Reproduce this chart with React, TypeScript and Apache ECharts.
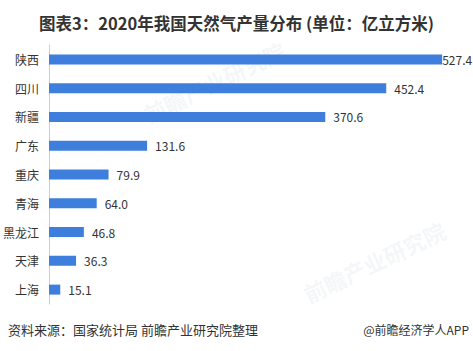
import React, { useEffect, useRef } from "react";
import * as echarts from "echarts";

const categories = ["陕西", "四川", "新疆", "广东", "重庆", "青海", "黑龙江", "天津", "上海"];
const values = [527.4, 452.4, 370.6, 131.6, 79.9, 64.0, 46.8, 36.3, 15.1];
const titleText = "图表3：2020年我国天然气产量分布 (单位：亿立方米)";
const sourceText = "资料来源：国家统计局 前瞻产业研究院整理";
const brandText = "@前瞻经济学人APP";
const watermarkText = "前瞻产业研究院";

export default function App() {
  const ref = useRef<HTMLDivElement>(null);
  useEffect(() => {
    if (!ref.current) return;
    const chart = echarts.init(ref.current, null, { renderer: "svg" });
    const font = "'Noto Sans CJK SC', 'Noto Sans', sans-serif";
    chart.setOption({
      animation: false,
      backgroundColor: "#ffffff",
      title: {
        text: titleText,
        left: "center",
        top: 10,
        textStyle: { fontSize: 16.5, fontWeight: "bold", color: "#333333", fontFamily: font },
      },
      grid: { left: 49, right: 14, top: 45, bottom: 47, containLabel: false },
      xAxis: {
        type: "value",
        min: 0,
        max: 550,
        show: false,
      },
      yAxis: {
        type: "category",
        data: categories,
        inverse: true,
        axisLine: { show: true, lineStyle: { color: "#cfcfcf", width: 1 } },
        axisTick: { show: false },
        axisLabel: { color: "#333333", fontSize: 12, margin: 10, fontFamily: font },
      },
      series: [
        {
          type: "bar",
          data: values.map((v, i) =>
            i === 0 ? { value: v, label: { distance: 0 } } : v
          ),
          barWidth: 10,
          itemStyle: { color: "#3e7fdd" },
          label: {
            show: true,
            position: "right",
            distance: 8,
            color: "#333333",
            fontSize: 12,
            fontFamily: font,
            formatter: (p: any) => Number(p.value).toFixed(1),
          },
        },
      ],
      graphic: [
        {
          type: "text",
          left: 8,
          top: 323,
          style: { text: sourceText, fill: "#333333", font: `13px ${font}` },
        },
        {
          type: "text",
          right: 4,
          top: 323,
          style: { text: brandText, fill: "#333333", font: `12px ${font}` },
        },
        {
          type: "text",
          x: 140,
          y: 105,
          rotation: Math.PI / 7,
          z: -1,
          silent: true,
          style: { text: watermarkText, fill: "rgba(190,200,215,0.16)", font: `bold 22px ${font}` },
        },
        {
          type: "text",
          x: 300,
          y: 285,
          rotation: Math.PI / 7,
          z: -1,
          silent: true,
          style: { text: watermarkText, fill: "rgba(190,200,215,0.16)", font: `bold 22px ${font}` },
        },
      ],
    });
    return () => chart.dispose();
  }, []);
  return (
    <div
      ref={ref}
      style={{ position: "fixed", left: 0, top: 0, width: 473, height: 351 }}
    />
  );
}
